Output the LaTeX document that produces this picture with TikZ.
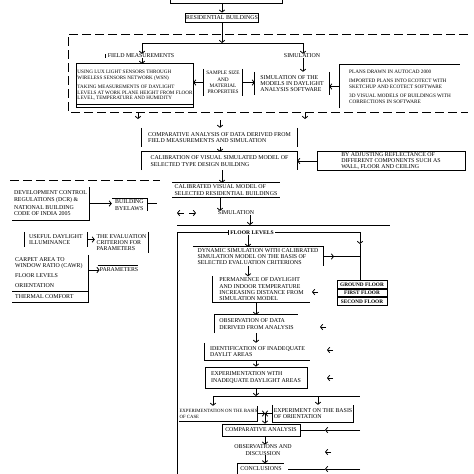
\documentclass[tikz,border=0pt]{standalone}
\usepackage{fontspec}
\setmainfont{Liberation Serif}
\usetikzlibrary{arrows.meta}
\begin{document}
\begin{tikzpicture}[x=1pt,y=-1pt,
  lbl/.style={font=\fontsize{5.9}{6.3}\selectfont, inner sep=0pt, align=left},
  bx/.style 2 args={lbl, minimum width=#1, minimum height=#2},
  ln/.style={line width=0.8pt},
  arr/.style={ln, -{Straight Barb[length=2.2pt,width=5.5pt]}},
  dsh/.style={ln, dash pattern=on 9pt off 4pt}]
\useasboundingbox (0,0) rectangle (474,474);
% top
\node[draw, ln, minimum width=112pt, minimum height=12pt, inner sep=0pt] (topbox) at (226,-3) {};
\node[bx={73pt}{9pt}, draw, ln, align=center] (res) at (222,17.5) {RESIDENTIAL BUILDINGS};
\draw[arr] (topbox.south -| res.north) -- (res.north);
\coordinate (sl) at (142,43); \coordinate (sr) at (303,43); \coordinate (sm) at (222,43);
\draw[arr] (res.south -| sm) -- (sm);
\draw[ln] (sl) -- (sr);
\node[lbl] (fm) at (141,56) {FIELD MEASUREMENTS};
\draw[ln] ([xshift=-2pt]fm.north west) -- ([xshift=-2pt]fm.south west);
\draw[arr] (sl) -- (sl |- fm.north);
\node[lbl] (siml) at (302,56) {SIMULATION};
\draw[arr] (sr) -- (sr |- siml.north);
% dashed group
\coordinate (da) at (468,34); \coordinate (db) at (68,34); \coordinate (dc) at (68,112); \coordinate (dd) at (468,112);
\draw[dsh] (da) -- (db) -- (dc) -- (dd);
\node[bx={116pt}{43pt}, font=\fontsize{5.1}{5.8}\selectfont] (fbox) at (135,85.5) {USING LUX LIGHT SENSORS THROUGH\\WIRELESS SENSORS NETWORK (WSN)\\[3pt]TAKING MEASUREMENTS OF DAYLIGHT\\LEVELS AT WORK PLANE HEIGHT FROM FLOOR\\LEVEL, TEMPERATURE AND HUMIDITY};
\draw[ln] (fbox.south west) rectangle (fbox.north east);
\draw[ln] ([yshift=3pt]fbox.south west) -- ([yshift=3pt]fbox.south east);
\draw[arr] (fm.south -| sl) -- (fbox.north -| sl);
\node[bx={38pt}{27pt}, align=center, font=\fontsize{5.3}{6.2}\selectfont] (samp) at (223,82.5) {SAMPLE SIZE\\AND\\MATERIAL\\PROPERTIES};
\draw[ln] (samp.north west) -- (samp.south west) (samp.north east) -- (samp.south east);
\draw[arr] (samp.west) -- (fbox.east |- samp.west);
\node[bx={74pt}{23pt}] (simb) at (292,83.5) {SIMULATION OF THE\\MODELS IN DAYLIGHT\\ANALYSIS SOFTWARE};
\draw[ln] (simb.north west) -- (simb.south west) (simb.north east) -- (simb.south east);
\draw[arr] (samp.east) -- (simb.west |- samp.east);
\draw[arr] (siml.south -| sr) -- (simb.north -| sr);
\node[bx={120pt}{43pt}, font=\fontsize{5.2}{6}\selectfont] (plans) at (400,86.5) {PLANS DRAWN IN AUTOCAD 2000\\[3pt]IMPORTED PLANS INTO ECOTECT WITH\\SKETCHUP AND ECOTECT SOFTWARE\\[3pt]3D VISUAL MODELS OF BUILDINGS WITH\\CORRECTIONS IN SOFTWARE};
\draw[ln] (plans.south west) -- (plans.north west) -- (plans.north east);
\draw[arr] (plans.west) -- (simb.east |- plans.west);
% below group
\coordinate (d1) at (138,112); \coordinate (d1b) at (138,119);
\coordinate (d2) at (305,112); \coordinate (d2b) at (305,119);
\draw[arr] (d1) -- (d1b); \draw[arr] (d2) -- (d2b);
\node[bx={155pt}{19pt}] (comp) at (219.5,137.5) {COMPARATIVE ANALYSIS OF DATA DERIVED FROM\\FIELD MEASUREMENTS AND SIMULATION};
\draw[ln] (comp.north west) -- (comp.south west) (comp.north east) -- (comp.south east);
\coordinate (c0) at (220,120);
\draw[arr] (c0) -- (comp.north -| c0);
\node[bx={155pt}{18pt}] (calib) at (219.5,161) {CALIBRATION OF VISUAL SIMULATED MODEL OF\\SELECTED TYPE DESIGN BUILDING};
\draw[ln] (calib.south west) -- (calib.north west) -- (calib.north east) -- (calib.south east);
\draw[arr] (comp.south -| c0) -- (calib.north -| c0);
\node[bx={148pt}{19pt}, draw, ln] (adj) at (391,161) {BY ADJUSTING REFLECTANCE OF\\DIFFERENT COMPONENTS SUCH AS\\WALL, FLOOR AND CEILING};
\draw[arr] (adj.west) -- (calib.east);
\coordinate (e1) at (10,180); \coordinate (e2) at (160,180);
\draw[dsh] (e1) -- (e2);
\node[bx={108pt}{14pt}] (calv) at (226,190) {CALIBRATED VISUAL MODEL OF\\SELECTED RESIDENTIAL BUILDINGS};
\draw[ln] (calv.north west) -- (calv.north east) (calv.south west) -- (calv.south east);
\coordinate (c1) at (222,175);
\draw[arr] (calib.south -| c1) -- (calv.north -| c1);
% left upper
\node[bx={77pt}{33pt}] (dcr) at (50.5,203.5) {DEVELOPMENT CONTROL\\REGULATIONS (DCR) \&\\[2pt]NATIONAL BUILDING\\CODE OF INDIA 2005};
\draw[ln] (dcr.north east) -- (dcr.south east) -- (dcr.south west);
\node[bx={35pt}{12pt}] (byl) at (129.5,205) {BUILDING\\BYELAWS};
\draw[ln] (byl.north west) -- (byl.north east) -- (byl.south east);
\draw[arr] (dcr.east) -- (dcr.east -| byl.west);
\coordinate (bylend) at (157,203);
\draw[ln] (byl.east |- bylend) -- (bylend);
% simulation
\node[lbl] (sim2) at (236,213) {SIMULATION};
\coordinate (c2) at (220,198);
\draw[arr] (calv.south -| c2) -- (sim2.north -| c2);
\coordinate (h1a) at (184,213); \coordinate (h1b) at (177,213);
\coordinate (h2a) at (189,213); \coordinate (h2b) at (196,213);
\draw[arr] (h1a) -- (h1b); \draw[arr] (h2a) -- (h2b);
\coordinate (c3) at (250,225);
\draw[arr] (sim2.south -| c3) -- (c3);
\coordinate (t1) at (177,225); \coordinate (t2) at (390,225);
\draw[ln] (t1) -- (t2);
% frame
\coordinate (fl) at (177,232); \coordinate (fb) at (177,480); \coordinate (fr) at (360,232);
\coordinate (fv) at (360,244);
\draw[ln] (fb) -- (fl) -- (fr);
\node[lbl, fill=white, inner xsep=1pt, font=\fontsize{5.6}{6.3}\selectfont\bfseries] (flv) at (252,232.5) {FLOOR LEVELS};
\draw[ln] ([xshift=-1pt]flv.north west) -- ([xshift=-1pt]flv.south west);
\node[bx={50pt}{7.7pt}, draw, ln, font=\fontsize{5.3}{6}\selectfont\bfseries] (gf) at (362,284.5) {GROUND FLOOR};
\node[bx={50pt}{7.7pt}, draw, ln, font=\fontsize{5.3}{6}\selectfont\bfseries, anchor=north] (ff) at (gf.south) {FIRST FLOOR};
\node[bx={50pt}{7.7pt}, draw, ln, font=\fontsize{5.3}{6}\selectfont\bfseries, anchor=north] (sf) at (ff.south) {SECOND FLOOR};
\draw[arr] (fr) -- (fv);
\draw[ln] (fv) -- (gf.north -| fv);
\node[bx={130pt}{19pt}] (dyn) at (258,256.5) {DYNAMIC SIMULATION WITH CALIBRATED\\SIMULATION MODEL ON THE BASIS OF\\SELECTED EVALUATION CRITERIONS};
\draw[ln] (dyn.north west) -- (dyn.north east) -- (dyn.south east);
\coordinate (c4) at (248,0);
\draw[arr] (flv.south -| c4) -- (dyn.north -| c4);
\coordinate (dm) at (334,256.5); \coordinate (dv) at (360,256.5);
\draw[arr] (dyn.east) -- (dm); \draw[ln] (dm) -- (dv);
\node[bx={97pt}{26pt}] (perm) at (261.5,289.5) {PERMANENCE OF DAYLIGHT\\AND INDOOR TEMPERATURE\\INCREASING DISTANCE FROM\\SIMULATION MODEL};
\draw[ln] (perm.north west) -- (perm.south west) -- (perm.south east);
\draw[arr] (dyn.south -| c4) -- (perm.north -| c4);
\coordinate (k1a) at (318,292); \coordinate (k1b) at (312,292);
\draw[arr] (k1a) -- (k1b);
\node[bx={83pt}{18pt}] (obs) at (256.5,324) {OBSERVATION OF DATA\\DERIVED FROM ANALYSIS};
\draw[ln] (obs.south west) -- (obs.north west) -- (obs.north east);
\coordinate (c5) at (256,0);
\draw[arr] (perm.south -| c5) -- (obs.north -| c5);
\coordinate (k2a) at (326,327); \coordinate (k2b) at (320,327);
\draw[arr] (k2a) -- (k2b);
\node[bx={105pt}{17pt}] (ident) at (257.5,351.5) {IDENTIFICATION OF INADEQUATE\\DAYLIT AREAS};
\draw[ln] (ident.north west) -- (ident.south west) -- (ident.south east);
\draw[arr] (obs.south -| c5) -- (ident.north -| c5);
\coordinate (k3a) at (333,350); \coordinate (k3b) at (327,350);
\draw[arr] (k3a) -- (k3b);
\node[bx={102pt}{21pt}, draw, ln] (exp) at (256,377.5) {EXPERIMENTATION WITH\\INADEQUATE DAYLIGHT AREAS};
\draw[arr] (ident.south -| c5) -- (exp.north -| c5);
\coordinate (k4a) at (333,378); \coordinate (k4b) at (327,378);
\draw[arr] (k4a) -- (k4b);
\coordinate (s1) at (213,396); \coordinate (s2) at (360,396); \coordinate (s3) at (318,396); \coordinate (s4) at (256,396);
\draw[ln] (s1) -- (s2);
\draw[arr] (exp.south -| s4) -- (s4);
\node[bx={77pt}{15pt}, font=\fontsize{4.8}{6}\selectfont] (expc) at (218.5,413.5) {EXPERIMENTATION ON THE BASIS\\OF CASE};
\draw[ln] (expc.north east) -- (expc.south east) -- (expc.south west);
\node[bx={80pt}{17pt}] (expo) at (313,413.5) {EXPERIMENT ON THE BASIS\\OF ORIENTATION};
\draw[ln] (expo.north west) -- (expo.south west) -- (expo.south east) -- (expo.north east);
\draw[arr] (s1) -- (expc.north -| s1);
\draw[arr] (s3) -- (expo.north -| s3);
\coordinate (mc) at (265,413.5);
\draw[arr] (expc.east) -- (mc); \draw[arr] (expo.west) -- (mc);
\node[bx={78pt}{12pt}, draw, ln] (ca) at (261,430) {COMPARATIVE ANALYSIS};
\draw[arr] (mc) -- (ca.north -| mc);
\coordinate (car) at (360,430); \coordinate (cam) at (325,430);
\draw[arr] (car) -- (cam); \draw[ln] (cam) -- (ca.east);
\node[lbl, align=center] (obsd) at (263,450) {OBSERVATIONS AND\\DISCUSSION};
\draw[arr] (ca.south -| mc) -- (obsd.north -| mc);
\coordinate (k5a) at (331,452); \coordinate (k5b) at (325,452);
\draw[arr] (k5a) -- (k5b);
\node[bx={46pt}{11pt}] (concl) at (261,469) {CONCLUSIONS};
\draw[ln] (concl.south west) -- (concl.north west) -- (concl.north east);
\draw[arr] (obsd.south -| mc) -- (concl.north -| mc);
\coordinate (cor) at (360,469); \coordinate (com) at (325,469); \coordinate (col) at (288,469);
\draw[arr] (cor) -- (com); \draw[ln] (com) -- (col);
% left lower
\node[bx={62pt}{15pt}] (udi) at (56,239.5) {USEFUL DAYLIGHT\\ILLUMINANCE};
\draw[ln] (udi.north west) -- (udi.south west) (udi.north east) -- (udi.south east);
\node[bx={53pt}{21pt}] (eval) at (121.5,242.5) {THE EVALUATION\\CRITERION FOR\\PARAMETERS};
\draw[ln] (eval.north east) -- (eval.south east);
\draw[arr] (udi.east) -- (udi.east -| eval.west);
\node[minimum width=76pt, minimum height=47pt, inner sep=0pt] (params) at (50,278.5) {};
\draw[ln] (params.north east) -- (params.south east) -- (params.south west);
\coordinate (pl) at (12,291); \coordinate (pr) at (88,291);
\draw[ln] (pl) -- (pr);
\node[lbl, anchor=west] (p1) at (15,263.5) {CARPET AREA TO\\WINDOW RATIO (CAWR)};
\node[lbl, anchor=west] (p2) at (15,276) {FLOOR LEVELS};
\node[lbl, anchor=west] (p3) at (15,286) {ORIENTATION};
\node[lbl, anchor=west] (p4) at (15,297) {THERMAL COMFORT};
\node[lbl] (plbl) at (119,270) {PARAMETERS};
\draw[ln] ([yshift=2.5pt,xshift=-2pt]plbl.north west) -- ([yshift=2.5pt]plbl.north east);
\draw[arr] (params.east |- plbl.west) -- (plbl.west);
\end{tikzpicture}
\end{document}
